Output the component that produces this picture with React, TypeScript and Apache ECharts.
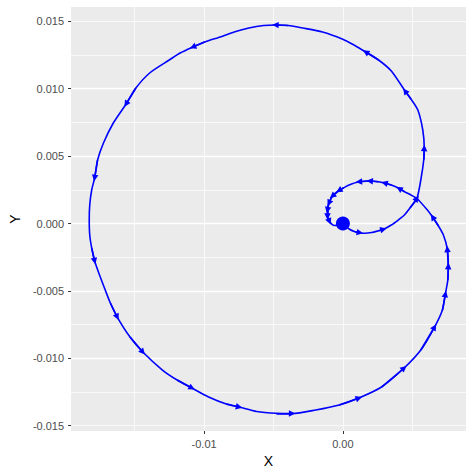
import React, { useEffect, useRef } from "react";
import * as echarts from "echarts";

// Trajectory (in order)
const pathX = [
  0.0, 0.000446, 0.00087, 0.001224, 0.001578, 0.002074, 0.002569, 0.002923, 0.003489, 0.003984,
  0.00443, 0.004834, 0.005329, 0.005612, 0.005824, 0.00586, 0.005754, 0.0054, 0.004904, 0.00448,
  0.003489, 0.002569, 0.001649, 0.0008, -0.00005, -0.001465, -0.00288, -0.003942, -0.004862, -0.005711,
  -0.006773, -0.007834, -0.008775, -0.009957, -0.010807, -0.011727, -0.012505, -0.01392, -0.014911, -0.015619,
  -0.016539, -0.017247, -0.017671, -0.017884, -0.018096, -0.018237, -0.018273, -0.018237, -0.018096, -0.017884,
  -0.01753, -0.017176, -0.016751, -0.016256, -0.015336, -0.014416, -0.013, -0.011939, -0.010877, -0.009674,
  -0.0084, -0.00748, -0.006207, -0.004791, -0.003659, -0.00196, -0.000262, 0.001154, 0.002781, 0.004409,
  0.005612, 0.006603, 0.007169, 0.007381, 0.007558, 0.007594, 0.007523, 0.00724, 0.006886, 0.006461,
  0.006086, 0.005329, 0.004904, 0.004409, 0.004055, 0.003489, 0.002994, 0.002569, 0.001932, 0.001154,
  0.000446, 0.000057, -0.000283, -0.000757, -0.001005, -0.001111, -0.001111, -0.00097, -0.000616, -0.000191,
];
const pathY = [
  0.0, -0.000408, -0.000608, -0.000682, -0.000727, -0.000668, -0.000534, -0.00043, -0.000111, 0.00026,
  0.000631, 0.00115, 0.001855, 0.003227, 0.00471, 0.005601, 0.006936, 0.008419, 0.009235, 0.009829,
  0.011312, 0.012128, 0.012722, 0.013241, 0.013686, 0.014205, 0.014502, 0.014688, 0.014725, 0.014688,
  0.014502, 0.014205, 0.013857, 0.013464, 0.013093, 0.012648, 0.012128, 0.011164, 0.010051, 0.008865,
  0.007455, 0.005971, 0.00471, 0.003375, 0.002485, 0.001372, 0.00026, -0.000853, -0.001817, -0.002782,
  -0.00382, -0.004785, -0.005897, -0.006936, -0.008419, -0.009532, -0.010867, -0.011609, -0.012203, -0.01287,
  -0.013389, -0.013612, -0.013946, -0.014079, -0.014094, -0.013835, -0.013464, -0.012944, -0.012128, -0.010719,
  -0.009384, -0.007678, -0.006417, -0.00523, -0.004191, -0.003153, -0.001892, -0.000853, -0.000185, 0.000482,
  0.001001, 0.001855, 0.002114, 0.002374, 0.002596, 0.002856, 0.003004, 0.003101, 0.003153, 0.003101,
  0.002856, 0.002648, 0.002448, 0.00204, 0.001521, 0.001001, 0.000519, 0.000148, -0.000148, -0.000111,
];
// indices of trajectory points that carry an arrow head
const arrowIdx = [
  3, 7, 12, 15, 19, 22, 28, 34, 39, 43, 49, 53, 55, 58, 61, 64, 67, 69, 71, 73, 75, 76, 79,
  84, 86, 88, 89, 92, 93, 94, 95, 96, 97,
];
const startPoint = [0, 0];

const xRange = [-0.01958, 0.008868];
const yRange = [-0.01539, 0.01606];
const xTicks = [-0.01, 0];
const yTicks = [-0.015, -0.01, -0.005, 0, 0.005, 0.01, 0.015];

const BLUE = "#0000FF";
const FONT = "Liberation Sans, Arial, sans-serif";

export default function App() {
  const ref = useRef<HTMLDivElement>(null);
  useEffect(() => {
    if (!ref.current) return;
    const chart = echarts.init(ref.current, undefined, { renderer: "svg" });
    const hidden = {
      axisLine: { show: false, onZero: false },
      axisTick: { show: false },
      axisLabel: { show: false },
    };
    chart.setOption({
      animation: false,
      backgroundColor: "#FFFFFF",
      grid: {
        left: 64,
        right: 8,
        top: 7,
        bottom: 43,
        show: true,
        backgroundColor: "#EBEBEB",
        borderWidth: 0,
      },
      xAxis: [
        {
          type: "value",
          min: xRange[0],
          max: xRange[1],
          minInterval: 0.01,
          maxInterval: 0.01,
          name: "X",
          nameLocation: "middle",
          nameGap: 22,
          nameTextStyle: { color: "#000000", fontSize: 14, fontFamily: FONT },
          axisLine: { show: false, onZero: false },
          axisTick: {
            show: true,
            length: 3,
            customValues: xTicks,
            lineStyle: { color: "#333333", width: 1 },
          },
          axisLabel: {
            show: true,
            customValues: xTicks,
            margin: 7,
            color: "#4D4D4D",
            fontSize: 11,
            fontFamily: FONT,
            formatter: (v: number) => v.toFixed(2),
          },
          splitLine: {
            show: true,
            showMinLine: false,
            showMaxLine: false,
            lineStyle: { color: "#FFFFFF", width: 1.4 },
          },
          z: 2,
        },
        {
          type: "value",
          min: xRange[0],
          max: xRange[1],
          minInterval: 0.005,
          maxInterval: 0.005,
          ...hidden,
          splitLine: {
            show: true,
            showMinLine: false,
            showMaxLine: false,
            lineStyle: { color: "#FFFFFF", width: 0.7 },
          },
          z: 1,
        },
      ],
      yAxis: [
        {
          type: "value",
          min: yRange[0],
          max: yRange[1],
          minInterval: 0.005,
          maxInterval: 0.005,
          name: "Y",
          nameLocation: "middle",
          nameGap: 45,
          nameTextStyle: { color: "#000000", fontSize: 14, fontFamily: FONT },
          axisLine: { show: false, onZero: false },
          axisTick: {
            show: true,
            length: 3,
            customValues: yTicks,
            lineStyle: { color: "#333333", width: 1 },
          },
          axisLabel: {
            show: true,
            customValues: yTicks,
            margin: 7,
            color: "#4D4D4D",
            fontSize: 11,
            fontFamily: FONT,
            formatter: (v: number) => v.toFixed(3),
          },
          splitLine: {
            show: true,
            showMinLine: false,
            showMaxLine: false,
            lineStyle: { color: "#FFFFFF", width: 1.4 },
          },
          z: 2,
        },
        {
          type: "value",
          min: yRange[0],
          max: yRange[1],
          minInterval: 0.0025,
          maxInterval: 0.0025,
          ...hidden,
          splitLine: {
            show: true,
            showMinLine: false,
            showMaxLine: false,
            lineStyle: { color: "#FFFFFF", width: 0.7 },
          },
          z: 1,
        },
      ],
      series: [
        {
          type: "line",
          xAxisIndex: 0,
          yAxisIndex: 0,
          data: pathX.map((x, i) => [x, pathY[i]]),
          showSymbol: false,
          smooth: 0.25,
          lineStyle: { color: BLUE, width: 1.6 },
          itemStyle: { color: BLUE },
          z: 3,
        },
        {
          type: "lines",
          coordinateSystem: "cartesian2d",
          xAxisIndex: 0,
          yAxisIndex: 0,
          symbol: ["none", "triangle"],
          symbolSize: 6.5,
          lineStyle: { color: BLUE, width: 1.6, opacity: 1 },
          itemStyle: { color: BLUE },
          data: arrowIdx.map((i) => ({
            coords: [
              [pathX[i - 1], pathY[i - 1]],
              [pathX[i], pathY[i]],
            ],
          })),
          z: 4,
        },
        {
          type: "scatter",
          xAxisIndex: 0,
          yAxisIndex: 0,
          data: [startPoint],
          symbol: "circle",
          symbolSize: 14,
          itemStyle: { color: BLUE, opacity: 1 },
          z: 5,
        },
      ],
    });
    return () => chart.dispose();
  }, []);
  return (
    <div
      ref={ref}
      style={{ width: 474, height: 474, position: "fixed", left: 0, top: 0 }}
    />
  );
}
